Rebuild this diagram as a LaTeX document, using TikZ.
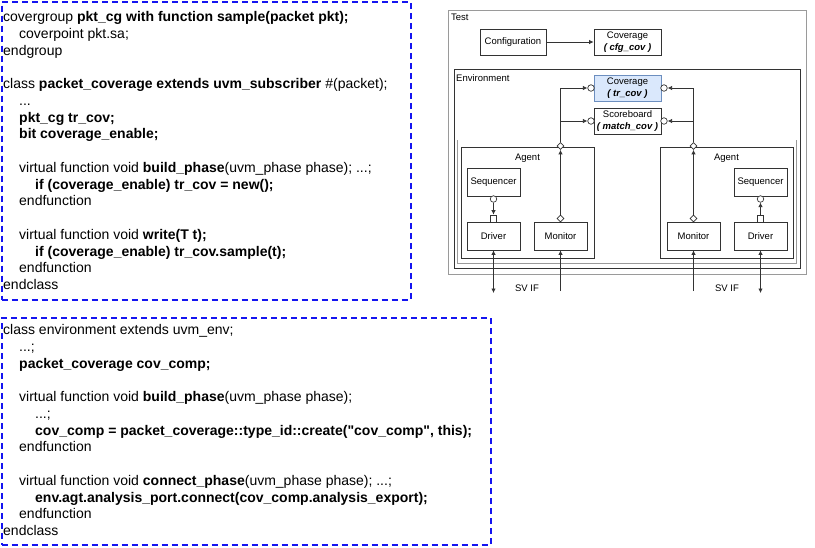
\documentclass[tikz,border=0pt]{standalone}
\usepackage{fontspec}
\setmainfont{Liberation Sans}
\newfontfamily\nolig{Liberation Sans}[Ligatures=TeXOff]
\usetikzlibrary{shapes.geometric,arrows.meta}
\definecolor{dblue}{RGB}{20,20,240}
\definecolor{dk}{HTML}{333333}
\definecolor{gr}{HTML}{9A9A9A}
\definecolor{lblue}{HTML}{DAE8FC}
\definecolor{lblued}{HTML}{6C8EBF}
\begin{document}
\begin{tikzpicture}[x=1pt,y=-1pt,
  code/.style={anchor=base west,inner sep=0,font=\fontsize{14}{17}\selectfont},
  dbox/.style={draw=dblue,line width=2pt,dash pattern=on 6pt off 4pt},
  blk/.style={draw=dk,line width=0.8pt,fill=white,inner sep=0,align=center,font=\fontsize{9.5}{11.5}\selectfont},
  lbl/.style={inner sep=0,font=\fontsize{9.5}{11}\selectfont},
  cont/.style={draw=dk,line width=0.8pt,inner sep=0},
  port/.style={circle,draw=dk,fill=white,minimum size=6.5pt,inner sep=0,line width=0.7pt},
  dia/.style={diamond,draw=dk,fill=white,minimum size=7pt,inner sep=0,line width=0.7pt,aspect=1},
  sqp/.style={rectangle,draw=dk,fill=white,minimum width=6pt,minimum height=7pt,inner sep=0,line width=0.7pt},
  con/.style={draw=dk,line width=0.8pt},
  tip/.style={-{Latex[length=4.5pt,width=4.5pt]}},
  both/.style={{Latex[length=4.5pt,width=4.5pt]}-{Latex[length=4.5pt,width=4.5pt]}}
]
\useasboundingbox (0,0) rectangle (815,547);

% ---------- code box 1 ----------
\node[dbox,minimum width=409pt,minimum height=298pt,inner sep=0] (cb1) at (206,150.5) {};
\node[code] (l1a) at (3,21.5) {covergroup \textbf{pkt\_cg with function sample(packet pkt);}};
\node[code] (l1b) at (19,38.25) {coverpoint pkt.sa;};
\node[code] (l1c) at (3,55) {endgroup};
\node[code] (l1d) at (3,88.5) {class \textbf{packet\_coverage extends uvm\_subscriber} \#(packet);};
\node[code] (l1e) at (19,105.25) {...};
\node[code] (l1f) at (19,122) {\textbf{pkt\_cg tr\_cov;}};
\node[code] (l1g) at (19,138.75) {\textbf{bit coverage\_enable;}};
\node[code] (l1h) at (19,172.25) {virtual function void \textbf{build\_phase}(uvm\_phase phase); ...;};
\node[code] (l1i) at (35,189) {\textbf{if (coverage\_enable) tr\_cov = new();}};
\node[code] (l1j) at (19,205.75) {endfunction};
\node[code] (l1k) at (19,239.25) {virtual function void \textbf{write(T t);}};
\node[code] (l1l) at (35,256) {\textbf{if (coverage\_enable) tr\_cov.sample(t);}};
\node[code] (l1m) at (19,272.75) {endfunction};
\node[code] (l1n) at (3,289.5) {endclass};

% ---------- code box 2 ----------
\node[dbox,minimum width=489pt,minimum height=227pt,inner sep=0] (cb2) at (246,431.5) {};
\node[code] (l2a) at (3,334.5) {class environment extends uvm\_env;};
\node[code] (l2b) at (19,351.25) {...;};
\node[code] (l2c) at (19,368) {\textbf{packet\_coverage cov\_comp;}};
\node[code] (l2d) at (19,401.5) {virtual function void \textbf{build\_phase}(uvm\_phase phase);};
\node[code] (l2e) at (35,418.25) {...;};
\node[code] (l2f) at (35,435) {\textbf{cov\_comp = packet\_coverage::type\_id::create({\nolig"}cov\_comp{\nolig"}, this);}};
\node[code] (l2g) at (19,451.75) {endfunction};
\node[code] (l2h) at (19,485.25) {virtual function void \textbf{connect\_phase}(uvm\_phase phase); ...;};
\node[code] (l2i) at (35,502) {\textbf{env.agt.analysis\_port.connect(cov\_comp.analysis\_export);}};
\node[code] (l2j) at (19,518.75) {endfunction};
\node[code] (l2k) at (3,535.5) {endclass};

% ---------- diagram containers ----------
\node[draw=gr,line width=0.8pt,inner sep=0,minimum width=358pt,minimum height=264pt] (test) at (627,142) {};
\node[lbl,anchor=north west] (testl) at (451,14) {Test};
\node[cont,minimum width=346pt,minimum height=199pt] (env) at (627,168.5) {};
\node[lbl,anchor=north west] (envl) at (456,74) {Environment};
\draw[draw=gr,line width=0.7pt] (457.5,140) -- (457.5,263) -- (796.5,263) -- (796.5,140);
\node[cont,minimum width=133pt,minimum height=111pt] (agL) at (527.5,202.5) {};
\node[cont,minimum width=133pt,minimum height=111pt] (agR) at (726.5,202.5) {};
\node[lbl] (agLl) at (527.5,158) {Agent};
\node[lbl] (agRl) at (726.5,158) {Agent};

% ---------- blocks ----------
\node[blk,minimum width=66pt,minimum height=26pt] (conf) at (513,42) {Configuration};
\node[blk,minimum width=67pt,minimum height=26pt] (cfg) at (627.5,42) {Coverage\\\textbf{\textit{( cfg\_cov )}}};
\node[blk,fill=lblue,draw=lblued,minimum width=67pt,minimum height=26pt] (trc) at (627.5,88) {Coverage\\\textbf{\textit{( tr\_cov )}}};
\node[blk,minimum width=67pt,minimum height=26pt] (scb) at (627.5,121) {Scoreboard\\\textbf{\textit{( match\_cov )}}};
\node[blk,minimum width=53pt,minimum height=28pt] (seqL) at (493.5,182) {Sequencer};
\node[blk,minimum width=53pt,minimum height=28pt] (drvL) at (493.5,236) {Driver};
\node[blk,minimum width=53pt,minimum height=28pt] (monL) at (560.5,236) {Monitor};
\node[blk,minimum width=53pt,minimum height=28pt] (monR) at (693.5,236) {Monitor};
\node[blk,minimum width=53pt,minimum height=28pt] (seqR) at (760.5,182) {Sequencer};
\node[blk,minimum width=53pt,minimum height=28pt] (drvR) at (760.5,236) {Driver};

% ---------- ports ----------
\node[port] (cTL) at (591,88) {};
\node[port] (cTR) at (664,88) {};
\node[port] (cSL) at (591,121) {};
\node[port] (cSR) at (664,121) {};
\node[port] (cQL) at (493.5,199) {};
\node[port] (cQR) at (760.5,199) {};
\node[sqp] (sDL) at (493.5,218.5) {};
\node[sqp] (sDR) at (760.5,218.5) {};
\node[dia] (dML) at (560.5,218.5) {};
\node[dia] (dMR) at (693.5,218.5) {};
\node[dia] (dAL) at (560.5,146) {};
\node[dia] (dAR) at (693.5,146) {};

\coordinate (bDL) at (493.5,293);
\coordinate (bML) at (560.5,291);
\coordinate (bMR) at (693.5,291);
\coordinate (bDR) at (760.5,293);
\node[lbl] (svL) at (527,288) {SV IF};
\node[lbl] (svR) at (727,288) {SV IF};

% ---------- connectors ----------
\draw[con,tip] (conf) -- (cfg);
\draw[con,tip] (dML) -- (dAL);
\draw[con,tip] (dMR) -- (dAR);
\draw[con,tip] (dAL.north) |- (cTL);
\draw[con,tip] (dAL.north) |- (cSL);
\draw[con,tip] (dAR.north) |- (cTR);
\draw[con,tip] (dAR.north) |- (cSR);
\draw[con,tip] (cQL) -- (sDL);
\draw[con,tip] (sDR) -- (cQR);
\draw[con,both] (drvL) -- (bDL);
\draw[con,both] (drvR) -- (bDR);
\draw[con,tip] (bML) -- (monL);
\draw[con,tip] (bMR) -- (monR);
\end{tikzpicture}
\end{document}
